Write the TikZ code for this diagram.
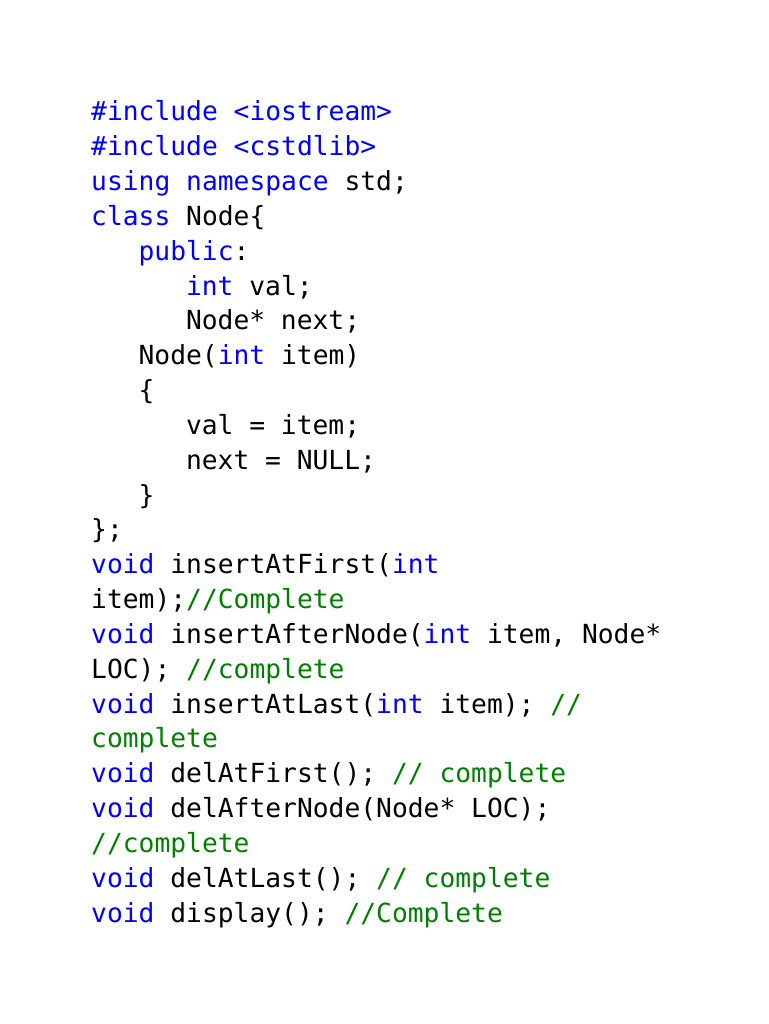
\documentclass[tikz,border=0pt]{standalone}
\usepackage{fontspec}
\setmonofont{DejaVu Sans Mono}
\usepackage{xcolor}
\definecolor{kwblue}{RGB}{0,0,255}
\definecolor{cmgreen}{RGB}{0,128,0}
\newcommand{\kw}[1]{\textcolor{kwblue}{#1}}
\newcommand{\cmt}[1]{\textcolor{cmgreen}{#1}}
% place one source line: indent (chars), row, name, text
\newcommand{\srcline}[4]{\node[codeline] (#3) at ({(91+15.8*#1)*1pt},{-(121+34.83*(#2-1))*1pt}) {#4};}

\begin{document}
\begin{tikzpicture}[codeline/.style={anchor=base west, inner sep=0pt, font=\ttfamily\fontsize{26.3}{30}\selectfont}]
\useasboundingbox (0,0) rectangle (768pt,-1024pt);
% header
\srcline{0}{1}{inca}{\kw{\#include <iostream>}}
\srcline{0}{2}{incb}{\kw{\#include <cstdlib>}}
\srcline{0}{3}{ns}{\kw{using namespace} std;}
% class
\srcline{0}{4}{cls}{\kw{class} Node\{}
\srcline{3}{5}{pub}{\kw{public}:}
\srcline{6}{6}{fval}{\kw{int} val;}
\srcline{6}{7}{fnext}{Node* next;}
\srcline{3}{8}{ctor}{Node(\kw{int} item)}
\srcline{3}{9}{obr}{\{}
\srcline{6}{10}{sval}{val = item;}
\srcline{6}{11}{snext}{next = NULL;}
\srcline{3}{12}{cbr}{\}}
\srcline{0}{13}{cend}{\};}
% prototypes
\srcline{0}{14}{pa}{\kw{void} insertAtFirst(\kw{int}}
\srcline{0}{15}{pb}{item);\cmt{//Complete}}
\srcline{0}{16}{pc}{\kw{void} insertAfterNode(\kw{int} item, Node*}
\srcline{0}{17}{pd}{LOC); \cmt{//complete}}
\srcline{0}{18}{pe}{\kw{void} insertAtLast(\kw{int} item); \cmt{//}}
\srcline{0}{19}{pf}{\cmt{complete}}
\srcline{0}{20}{pg}{\kw{void} delAtFirst(); \cmt{// complete}}
\srcline{0}{21}{ph}{\kw{void} delAfterNode(Node* LOC);}
\srcline{0}{22}{pi}{\cmt{//complete}}
\srcline{0}{23}{pj}{\kw{void} delAtLast(); \cmt{// complete}}
\srcline{0}{24}{pk}{\kw{void} display(); \cmt{//Complete}}
\end{tikzpicture}
\end{document}
